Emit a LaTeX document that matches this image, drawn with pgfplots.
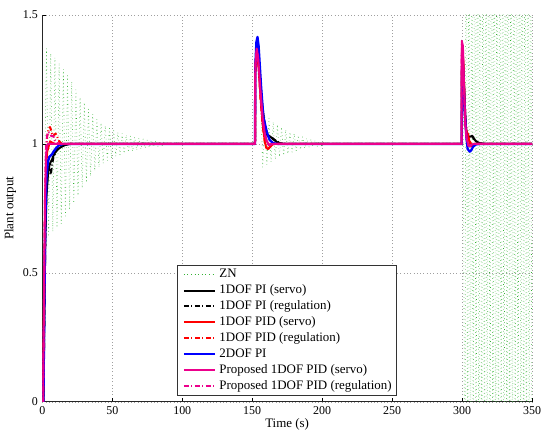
\documentclass[border=0pt]{standalone}
\usepackage{pgfplots}
\pgfplotsset{compat=1.18}
\usepackage{fontspec}
\setmainfont{Liberation Serif}
\definecolor{zngreen}{rgb}{0.2,0.7,0.2}
\begin{document}
\fontsize{13}{15}\selectfont
\begin{tikzpicture}
\begin{axis}[
 scale only axis, width=490bp, height=387bp,
 xmin=0, xmax=350, ymin=0, ymax=1.5,
 axis x line*=bottom, axis y line*=left,
 xtick={0,50,...,350}, ytick={0,0.5,1,1.5},
 grid=major,
 grid style={gray!75, dash pattern=on 0.7pt off 2.6pt, line width=0.45pt},
 tick style={black, line width=0.5pt}, major tick length=4bp,
 axis line style={line width=0.6pt, black!85},
 xlabel={Time (s)}, ylabel={Plant output},
 /pgf/number format/assume math mode=true,
 tick label style={font=\fontsize{12}{13}\selectfont},
 label style={font=\fontsize{13}{15}\selectfont},
 xlabel style={yshift=5bp},
 ylabel style={yshift=-2bp},
 legend style={at={(0.5,0.015)}, anchor=south, draw=black!80, line width=0.5pt,
   font=\fontsize{13}{15}\selectfont, row sep=3.4bp, inner xsep=5bp, inner ysep=3.5bp, column sep=3.5bp,
   nodes={inner sep=0pt, text height=9.5bp, text depth=3bp}},
 legend cell align=left,
 legend image code/.code={\draw[#1] (0bp,0bp) -- (31bp,0bp);},
 every axis plot/.append style={line join=round},
]
% ZN
\addplot[zngreen, line width=0.6bp, dash pattern=on 0.6bp off 3bp] coordinates {
(0,0)(1,0.3)(2,1.0)(3,1.37)(4.5,0.64)(6,1.35)(7.5,0.66)(9,1.335)(10.5,0.675)(12,1.315)
(13.5,0.69)(15,1.29)(16.5,0.72)(18,1.265)(19.5,0.745)(21,1.24)(22.5,0.77)(24,1.21)
(25.5,0.80)(27,1.18)(28.5,0.83)(30,1.16)(31.5,0.85)(33,1.135)(34.5,0.875)(36,1.115)
(37.5,0.895)(39,1.095)(40.5,0.91)(42,1.082)(43.5,0.925)(45,1.07)(46.5,0.935)(48,1.06)
(49.5,0.945)(51,1.052)(52.5,0.952)(54,1.045)(55.5,0.958)(57,1.04)(58.5,0.963)(60,1.035)
(61.5,0.968)(63,1.03)(64.5,0.972)(66,1.026)(67.5,0.976)(69,1.022)(70.5,0.98)(72,1.019)
(73.5,0.983)(75,1.016)(76.5,0.986)(78,1.014)(79.5,0.988)(81,1.012)(82.5,0.99)(84,1.01)
(85.5,0.992)(87,1.008)(88.5,0.993)(90,1.006)(91.5,0.995)(93,1.005)(94.5,0.996)(96,1.004)
(97.5,0.997)(99,1.003)(100.5,0.998)(102,1.002)(105,1.0)(152,1.0)(152.2,1.3)(154,1.35)
(156,1.2)(157.5,0.91)(159,1.11)(160.5,0.92)(162,1.10)(163.5,0.93)(165,1.085)(166.5,0.94)
(168,1.075)(169.5,0.95)(171,1.065)(172.5,0.955)(174,1.055)(175.5,0.962)(177,1.046)
(178.5,0.968)(180,1.04)(181.5,0.973)(183,1.033)(184.5,0.978)(186,1.027)(187.5,0.982)
(189,1.022)(190.5,0.986)(192,1.018)(193.5,0.989)(195,1.014)(196.5,0.991)(198,1.011)
(199.5,0.993)(201,1.008)(202.5,0.995)(204,1.005)(207,1.0)(300,1.0)(301,1.2)
(302,-1)(303,3)(304,-1)(305,3)(306,-1)(307,3)(308,-1)(309,3)(310,-1)
(311,3)(312,-1)(313,3)(314,-1)(315,3)(316,-1)(317,3)(318,-1)(319,3)(320,-1)
(321,3)(322,-1)(323,3)(324,-1)(325,3)(326,-1)(327,3)(328,-1)(329,3)(330,-1)
(331,3)(332,-1)(333,3)(334,-1)(335,3)(336,-1)(337,3)(338,-1)(339,3)(340,-1)
(341,3)(342,-1)(343,3)(344,-1)(345,3)(346,-1)(347,3)(348,-1)(349,3)(350,-1)
};
\addlegendentry{ZN}
% 1DOF PI servo
\addplot[black, line width=2bp] coordinates {
(0,0)(0.8,0)(1.5,0.35)(2.2,0.65)(3,0.8)(4,0.88)(5,0.915)(6,0.93)(7,0.94)(8,0.955)(9,0.965)
(11,0.978)(13,0.987)(16,0.995)(20,1)(152,1)(152.2,1.3)(153.5,1.37)(155,1.3)(157,1.16)
(159,1.07)(161,1.03)(163,1.028)(165,1.018)(168,1.006)(172,1)(299.8,1)(300,1.36)(301,1.3)
(302,1.13)(303,1.05)(304,1.025)(305.5,1.028)(307,1.03)(308.5,1.02)(310,1.01)(313,1.002)
(318,1)(350,1)
};
\addlegendentry{1DOF PI (servo)}
% 1DOF PI regulation
\addplot[black, line width=2bp, dash pattern=on 5bp off 2.5bp on 1bp off 2.5bp] coordinates {
(0,0)(0.8,0)(1.5,0.35)(2.2,0.65)(3,0.82)(4,0.9)(5,0.9)(6,0.88)(7,0.92)(8,0.95)(9,0.96)
(10,0.975)(12,0.985)(15,0.995)(18,1)(152,1)(152.2,1.3)(153.5,1.36)(155,1.29)(157,1.15)
(159,1.07)(161,1.035)(163,1.03)(165,1.02)(168,1.008)(172,1)(299.8,1)(300,1.36)(301,1.28)
(302,1.12)(303,1.05)(304.5,1.03)(306,1.035)(307.5,1.03)(309,1.015)(312,1.003)(316,1)(350,1)
};
\addlegendentry{1DOF PI (regulation)}
% 1DOF PID servo
\addplot[red, line width=2bp] coordinates {
(0,0)(0.6,0)(1.3,0.4)(2,0.75)(2.8,0.92)(3.5,0.97)(4.5,0.99)(5.5,1.01)(7,1.005)(9,1.0)
(152,1)(152.2,1.3)(153.3,1.36)(154.5,1.31)(156,1.18)(157.5,1.08)(159,1.01)(160,0.985)
(161.5,0.98)(163,0.99)(165,1.0)(299.8,1)(300,1.38)(300.8,1.33)(301.8,1.18)(302.5,1.08)
(303.2,1.04)(304,1.04)(305,1.015)(306,0.99)(307.5,0.995)(309,1)(350,1)
};
\addlegendentry{1DOF PID (servo)}
% 1DOF PID regulation
\addplot[red, line width=2bp, dash pattern=on 5bp off 2.5bp on 1bp off 2.5bp] coordinates {
(0,0)(0.6,0)(1.3,0.4)(2,0.75)(2.8,0.95)(3.5,1.03)(4.5,1.06)(5.5,1.065)(6.5,1.05)(7.5,1.03)
(8.5,1.035)(9.5,1.04)(10.5,1.03)(12,1.01)(14,1.0)(152,1)(152.2,1.3)(153.3,1.35)(154.5,1.3)
(156,1.17)(157.5,1.07)(159,1.01)(160.5,0.98)(162,0.985)(164,0.995)(166,1)(299.8,1)
(300,1.37)(300.8,1.32)(301.8,1.17)(302.5,1.09)(303.5,1.045)(304.5,1.035)(305.5,1.01)
(307,0.995)(309,1)(350,1)
};
\addlegendentry{1DOF PID (regulation)}
% 2DOF PI
\addplot[blue, line width=2.3bp] coordinates {
(0,0)(0.8,0)(1.5,0.4)(2.2,0.72)(3,0.87)(4,0.93)(5,0.95)(6,0.955)(7,0.96)(8,0.97)
(10,0.985)(12,0.995)(15,1)(152,1)(152.2,1.3)(153,1.395)(153.8,1.415)(154.6,1.38)
(156.4,1.22)(158,1.105)(160.5,1.045)(162.5,1.015)(165,1.003)(168,1)(299.8,1)(300,1.3)
(300.8,1.28)(301.8,1.15)(303,1.03)(304,0.98)(305.5,0.97)(306.5,0.975)(308,0.99)
(310,0.998)(313,1)(350,1)
};
\addlegendentry{2DOF PI}
% Proposed servo
\addplot[magenta, line width=2bp] coordinates {
(0,0)(0.5,0)(1.2,0.4)(1.9,0.78)(2.6,0.95)(3.3,0.99)(4,1.0)(152,1)(152.2,1.3)(153.2,1.37)
(154.2,1.34)(156,1.2)(157.5,1.1)(159,1.04)(160.5,1.01)(162,0.998)(165,1)(299.6,1)
(299.8,1.40)(300.6,1.38)(301.5,1.2)(302.3,1.08)(303.3,1.02)(304.5,0.995)(305.5,0.99)
(307,0.998)(309,1)(350,1)
};
\addlegendentry{Proposed 1DOF PID (servo)}
% Proposed regulation
\addplot[magenta, line width=2bp, dash pattern=on 5bp off 2.5bp on 1bp off 2.5bp] coordinates {
(0,0)(0.5,0)(1.2,0.4)(1.9,0.8)(2.6,0.98)(3.3,1.03)(4.3,1.047)(5.5,1.04)(6.5,1.03)
(7.9,1.03)(9,1.015)(11,1.003)(13,1)(152,1)(152.2,1.3)(153.2,1.36)(154.2,1.33)(156,1.19)
(157.5,1.09)(159,1.035)(160.5,1.005)(162,0.995)(165,1)(299.6,1)(299.8,1.39)(300.6,1.37)
(301.5,1.19)(302.3,1.07)(303.3,1.02)(304.5,0.993)(306,0.995)(308,1)(350,1)
};
\addlegendentry{Proposed 1DOF PID (regulation)}
\end{axis}
\path (current axis.south west) ++(-42bp,-37bp);
\path (current axis.north east) ++(18bp,15bp);
\end{tikzpicture}
\end{document}
